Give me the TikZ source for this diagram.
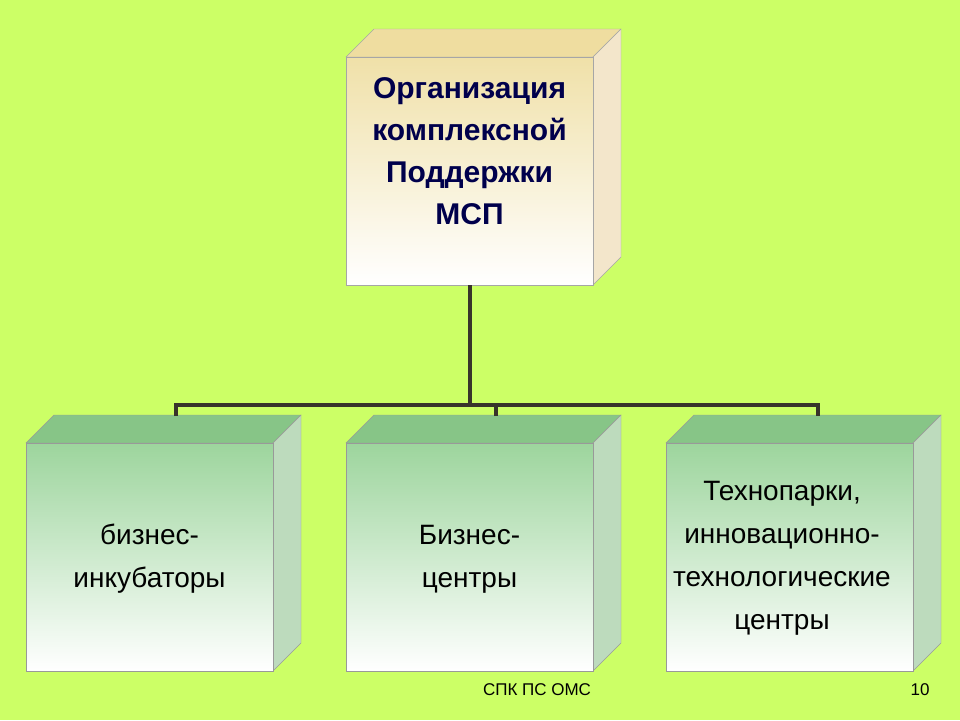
\documentclass[tikz,border=0pt]{standalone}
\usepackage{fontspec}
\setmainfont{Liberation Sans}
\begin{document}
\begin{tikzpicture}[x=1pt,y=-1pt,
  conn/.style={line width=4pt,draw=black!80!olive},
  lbl/.style={align=center,font=\fontsize{28}{43}\selectfont},
  tlbl/.style={align=center,font=\bfseries\fontsize{30}{42}\selectfont,text=blue!30!black}]
\definecolor{bg}{HTML}{CCFF66}
\fill[bg] (0,0) rectangle (960,720);
\useasboundingbox (0,0) rectangle (960,720);
\newcommand{\cubebox}[8]{% x y w h topcol sidecol frontTop drawcol
  \fill[#5,draw=#8] (#1,#2) -- ++(28,-28) -- ++(#3,0) -- ++(-28,28) -- cycle;
  \fill[#6,draw=#8] (#1+#3,#2) -- ++(28,-28) -- ++(0,#4) -- ++(-28,28) -- cycle;
  \shade[top color=#7,bottom color=white,draw=#8] (#1,#2) rectangle ++(#3,#4);}
\cubebox{346}{57}{247}{228}{yellow!40!brown!45}{yellow!20!brown!25!white}{yellow!40!brown!40!white}{gray!70}
\node[tlbl] (top) at (469.5,151) {Организация\\комплексной\\Поддержки\\МСП};
\coordinate (t) at (469.5,285);
\cubebox{26}{443}{247}{228}{green!35!gray!70}{green!30!gray!40!white}{green!40!gray!55!white}{gray!80}
\cubebox{346}{443}{247}{228}{green!35!gray!70}{green!30!gray!40!white}{green!40!gray!55!white}{gray!80}
\cubebox{666}{443}{247}{228}{green!35!gray!70}{green!30!gray!40!white}{green!40!gray!55!white}{gray!80}
\node[lbl] (a) at (149.5,559) {бизнес-\\инкубаторы};
\node[lbl] (b) at (469.5,559) {Бизнес-\\центры};
\node[lbl] (c) at (782,558) {Технопарки,\\инновационно-\\технологические\\центры};
\coordinate (ja) at (176,416);
\coordinate (jb) at (496,416);
\coordinate (jc) at (818,416);
\draw[conn] (t) -- (469.5,405);
\draw[conn] (ja) |- (469.5,405) -| (jc);
\draw[conn] (jb) -- (496,405);
\node[font=\fontsize{17}{20}\selectfont] (f) at (537,690) {СПК ПС ОМС};
\node[font=\fontsize{17}{20}\selectfont] (n) at (920,690) {10};
\end{tikzpicture}
\end{document}
